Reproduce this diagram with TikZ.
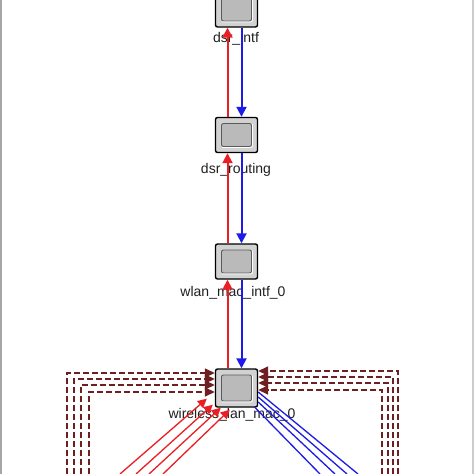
\documentclass[tikz,border=0pt]{standalone}
\usepackage{fontspec}
\setmainfont{Liberation Sans}
\usetikzlibrary{arrows.meta}
\definecolor{wred}{RGB}{235,30,36}
\definecolor{wblue}{RGB}{28,28,230}
\definecolor{stat}{RGB}{110,31,34}
\definecolor{boxfill}{RGB}{210,210,210}
\definecolor{innerfill}{RGB}{186,186,186}
\definecolor{innerline}{RGB}{90,90,90}
\definecolor{txt}{RGB}{32,32,32}
\tikzset{
  modbox/.style={draw=black, line width=1.4pt, rounded corners=2pt, fill=boxfill,
    minimum width=42pt, minimum height=35pt, inner sep=0pt,
    path picture={
      \draw[fill=innerfill, draw=innerline, line width=0.9pt]
        ([shift={(6pt,-6pt)}]path picture bounding box.north west) rectangle
        ([shift={(-6pt,6pt)}]path picture bounding box.south east);
      \draw[white, line width=0.8pt]
        ([shift={(6.5pt,5pt)}]path picture bounding box.south west) --
        ([shift={(-5pt,5pt)}]path picture bounding box.south east) --
        ([shift={(-5pt,-6.5pt)}]path picture bounding box.north east);
    }},
  lbl/.style={font=\fontsize{14}{16}\selectfont, text=txt, inner sep=0pt, anchor=base},
  redwire/.style={draw=wred, line width=2pt, -{Triangle[length=10pt,width=10pt]}},
  bluewire/.style={draw=wblue, line width=2pt, -{Triangle[length=10pt,width=10pt]}},
  reddiag/.style={draw=wred, line width=1.3pt, -{Triangle[length=9pt,width=9pt]}},
  bluediag/.style={draw=wblue, line width=1.3pt},
  statwire/.style={draw=stat, line width=1.5pt, dash pattern=on 6pt off 3pt,
    -{Triangle[length=10pt,width=9pt]}},
}
\begin{document}
\begin{tikzpicture}[x=1pt,y=-1pt]
\useasboundingbox (0,0) rectangle (474,474);
\fill[white] (0,0) rectangle (474,474);
\fill[black!35] (0,0) rectangle (2,474);
\fill[black!20] (472,0) rectangle (474,474);

% modules
\node[modbox, minimum height=36pt] (di) at (236.5,9) {};
\node[modbox] (dr) at (236.5,135) {};
\node[modbox] (wl) at (236.5,261.5) {};
\node[modbox, minimum height=38pt] (wm) at (236.5,388) {};

% labels
\node[lbl] (ldi) at (236,42) {dsr\_intf};
\node[lbl] (ldr) at (236,173) {dsr\_routing};
\node[lbl] (lwl) at (233,296) {wlan\_mac\_intf\_0};
\node[lbl] (lwm) at (232,418) {wireless\_lan\_mac\_0};

% vertical packet streams
\draw[redwire] ([xshift=-9pt]dr.north) -- ([xshift=-9pt]di.south);
\draw[bluewire] ([xshift=5pt]di.south) -- ([xshift=5pt]dr.north);
\draw[redwire] ([xshift=-9pt]wl.north) -- ([xshift=-9pt]dr.south);
\draw[bluewire] ([xshift=5pt]dr.south) -- ([xshift=5pt]wl.north);
\draw[redwire] ([xshift=-9pt]wm.north) -- ([xshift=-9pt]wl.south);
\draw[bluewire] ([xshift=5pt]wl.south) -- ([xshift=5pt]wm.north);

% bottom free ends
\coordinate (L1) at (67,474);
\coordinate (L2) at (74,474);
\coordinate (L3) at (81,474);
\coordinate (L4) at (89,474);
\coordinate (R1) at (398,474);
\coordinate (R2) at (393,474);
\coordinate (R3) at (388,474);
\coordinate (R4) at (382,474);
\coordinate (A1) at (120,474);
\coordinate (A2) at (136,474);
\coordinate (A3) at (149,474);
\coordinate (A4) at (163,474);
\coordinate (B1) at (358,474);
\coordinate (B2) at (347,474);
\coordinate (B3) at (335,474);
\coordinate (B4) at (320,474);

% statistic wires (left)
\draw[statwire] (L1) |- ([yshift=15pt]wm.west);
\draw[statwire] (L2) |- ([yshift=9pt]wm.west);
\draw[statwire] (L3) |- ([yshift=3pt]wm.west);
\draw[statwire] (L4) |- ([yshift=-4pt]wm.west);
% statistic wires (right)
\draw[statwire] (R1) |- ([yshift=17pt]wm.east);
\draw[statwire] (R2) |- ([yshift=11pt]wm.east);
\draw[statwire] (R3) |- ([yshift=5pt]wm.east);
\draw[statwire] (R4) |- ([yshift=-2pt]wm.east);

% receiver streams (red, into module)
\draw[reddiag] (A1) -- ([shift={(-8pt,9pt)}]wm.south west);
\draw[reddiag] (A2) -- ([shift={(-2pt,3pt)}]wm.south west);
\draw[reddiag] (A3) -- ([shift={(6pt,0pt)}]wm.south west);
\draw[reddiag] (A4) -- ([shift={(15pt,-2pt)}]wm.south west);
% transmitter streams (blue, out of module)
\draw[bluediag] ([yshift=-4pt]wm.east) -- (B1);
\draw[bluediag] ([yshift=-9pt]wm.east) -- (B2);
\draw[bluediag] ([yshift=-14pt]wm.east) -- (B3);
\draw[bluediag] ([shift={(-4pt,1pt)}]wm.south east) -- (B4);
\end{tikzpicture}
\end{document}
